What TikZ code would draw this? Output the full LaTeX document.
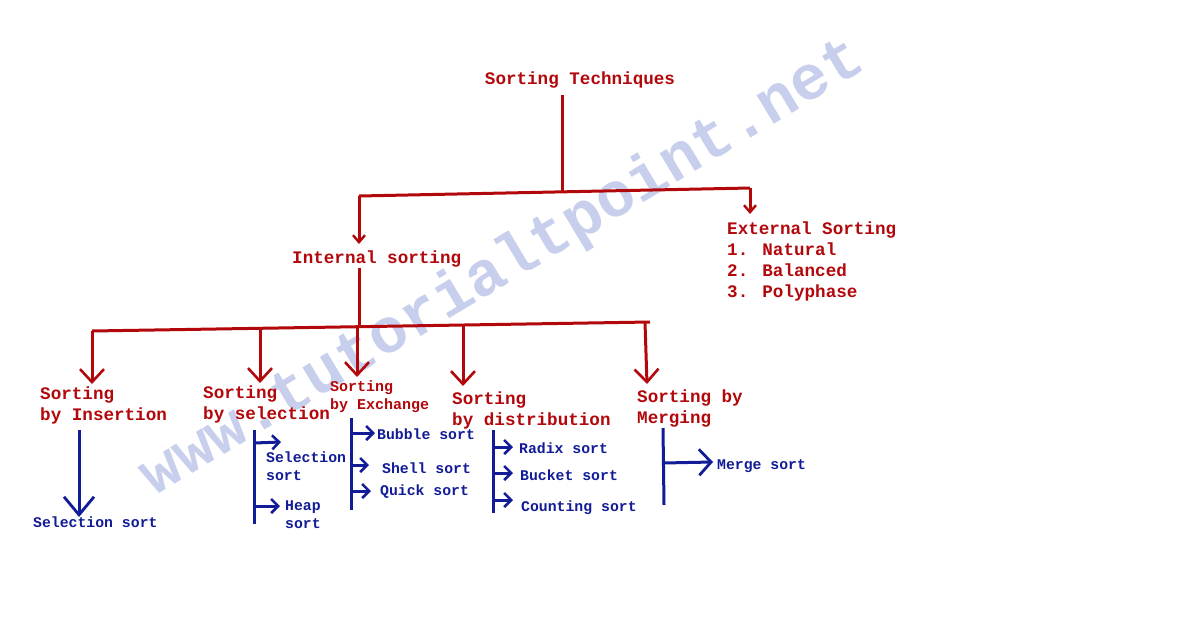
\documentclass[tikz,border=0pt]{standalone}
\usepackage{fontspec}
\setmainfont{Liberation Mono}
\usetikzlibrary{arrows.meta}
\definecolor{rd}{RGB}{178,8,12}
\definecolor{bl}{RGB}{18,28,150}
\definecolor{wm}{RGB}{200,207,236}
\tikzset{
  redtxt/.style={text=rd,font=\fontsize{17.6}{21}\selectfont\bfseries,inner sep=0pt,anchor=base west,align=left},
  redsmall/.style={text=rd,font=\fontsize{15}{18}\selectfont\bfseries,inner sep=0pt,anchor=base west,align=left},
  bluetxt/.style={text=bl,font=\fontsize{14.8}{18}\selectfont\bfseries,inner sep=0pt,anchor=base west,align=left},
  redline/.style={draw=rd,line width=3pt},
  blueline/.style={draw=bl,line width=3pt},
  rarrS/.style={redline,-{Straight Barb[length=7pt,width=12pt,line width=2.4pt]}},
  rarrL/.style={redline,-{Straight Barb[length=13pt,width=24pt,line width=2.6pt]}},
  barrS/.style={blueline,-{Straight Barb[length=7pt,width=14pt,line width=2.6pt]}},
  barrL/.style={blueline,-{Straight Barb[length=12pt,width=26pt,line width=2.8pt]}},
  barrXL/.style={blueline,-{Straight Barb[length=18pt,width=30pt,line width=2.8pt]}}
}
\begin{document}
\begin{tikzpicture}[x=1pt,y=-1pt]
\useasboundingbox[fill=white] (0,0) rectangle (1200,630);
% watermark
\node[text=wm,font=\fontsize{63}{63}\selectfont\bfseries,rotate=31,inner sep=0pt] (wmk) at (503,268) {www.tutorialtpoint.net};
% red labels
\node[redtxt,anchor=base] (st) at (580,84) {Sorting Techniques};
\node[redtxt] (int) at (292,263) {Internal sorting};
\node[redtxt] (ext) at (727,297) {External Sorting\\1. Natural\\2. Balanced\\3. Polyphase};
\node[redtxt] (ins) at (40,420) {Sorting\\by Insertion};
\node[redtxt] (sel) at (203,419) {Sorting\\by selection};
\node[redsmall] (exc) at (330,409) {Sorting\\by Exchange};
\node[redtxt] (dis) at (452,425) {Sorting\\by distribution};
\node[redtxt] (mer) at (637,423) {Sorting by\\Merging};
% blue labels
\node[bluetxt] (b1) at (33,527) {Selection sort};
\node[bluetxt] (b2) at (266,480) {Selection\\sort};
\node[bluetxt] (b3) at (285,528) {Heap\\sort};
\node[bluetxt] (b4) at (377,439) {Bubble sort};
\node[bluetxt] (b5) at (382,473) {Shell sort};
\node[bluetxt] (b6) at (380,495) {Quick sort};
\node[bluetxt] (b7) at (519,453) {Radix sort};
\node[bluetxt] (b8) at (520,480) {Bucket sort};
\node[bluetxt] (b9) at (521,511) {Counting sort};
\node[bluetxt] (b10) at (717,469) {Merge sort};
% red tree
\coordinate (t0) at (562,95);
\coordinate (t1) at (562,191);
\coordinate (tl) at (359,196);
\coordinate (tr) at (750,188);
\coordinate (tla) at (359,244);
\coordinate (tra) at (750,214);
\draw[redline] (t0) -- (t1);
\draw[redline] (tl) -- (tr);
\draw[rarrS] (tl) -- (tla);
\draw[rarrS] (tr) -- (tra);
\coordinate (i0) at (359,268);
\coordinate (i1) at (359,327);
\coordinate (hl) at (92,331);
\coordinate (hr) at (650,322);
\draw[redline] (i0) -- (i1);
\draw[redline] (hl) -- (hr);
\coordinate (a1s) at (92,331); \coordinate (a1e) at (92,384);
\coordinate (a2s) at (260,328); \coordinate (a2e) at (260,383);
\coordinate (a3s) at (357,327); \coordinate (a3e) at (357,377);
\coordinate (a4s) at (463,325); \coordinate (a4e) at (463,386);
\coordinate (a5s) at (645,322); \coordinate (a5e) at (647,384);
\draw[rarrL] (a1s) -- (a1e);
\draw[rarrL] (a2s) -- (a2e);
\draw[rarrL] (a3s) -- (a3e);
\draw[rarrL] (a4s) -- (a4e);
\draw[rarrL] (a5s) -- (a5e);
% blue: insertion
\coordinate (v1s) at (79,430); \coordinate (v1e) at (79,517);
\draw[barrXL] (v1s) -- (v1e);
% selection
\coordinate (v2s) at (254,430); \coordinate (v2e) at (254,524);
\draw[blueline] (v2s) -- (v2e);
\coordinate (s1) at (254,443); \coordinate (s1e) at (281,442);
\coordinate (s2) at (254,506); \coordinate (s2e) at (280,506);
\draw[barrS] (s1) -- (s1e);
\draw[barrS] (s2) -- (s2e);
% exchange
\coordinate (v3s) at (351,418); \coordinate (v3e) at (351,510);
\draw[blueline] (v3s) -- (v3e);
\coordinate (e1) at (351,433); \coordinate (e1e) at (375,433);
\coordinate (e2) at (351,465); \coordinate (e2e) at (369,465);
\coordinate (e3) at (351,491); \coordinate (e3e) at (371,491);
\draw[barrS] (e1) -- (e1e);
\draw[barrS] (e2) -- (e2e);
\draw[barrS] (e3) -- (e3e);
% distribution
\coordinate (v4s) at (493,430); \coordinate (v4e) at (493,513);
\draw[blueline] (v4s) -- (v4e);
\coordinate (d1) at (493,447); \coordinate (d1e) at (513,447);
\coordinate (d2) at (493,473); \coordinate (d2e) at (513,473);
\coordinate (d3) at (493,500); \coordinate (d3e) at (513,500);
\draw[barrS] (d1) -- (d1e);
\draw[barrS] (d2) -- (d2e);
\draw[barrS] (d3) -- (d3e);
% merging
\coordinate (v5s) at (663,428); \coordinate (v5e) at (664,505);
\draw[blueline] (v5s) -- (v5e);
\coordinate (m1) at (663,463); \coordinate (m1e) at (713,462);
\draw[barrL] (m1) -- (m1e);
\end{tikzpicture}
\end{document}
